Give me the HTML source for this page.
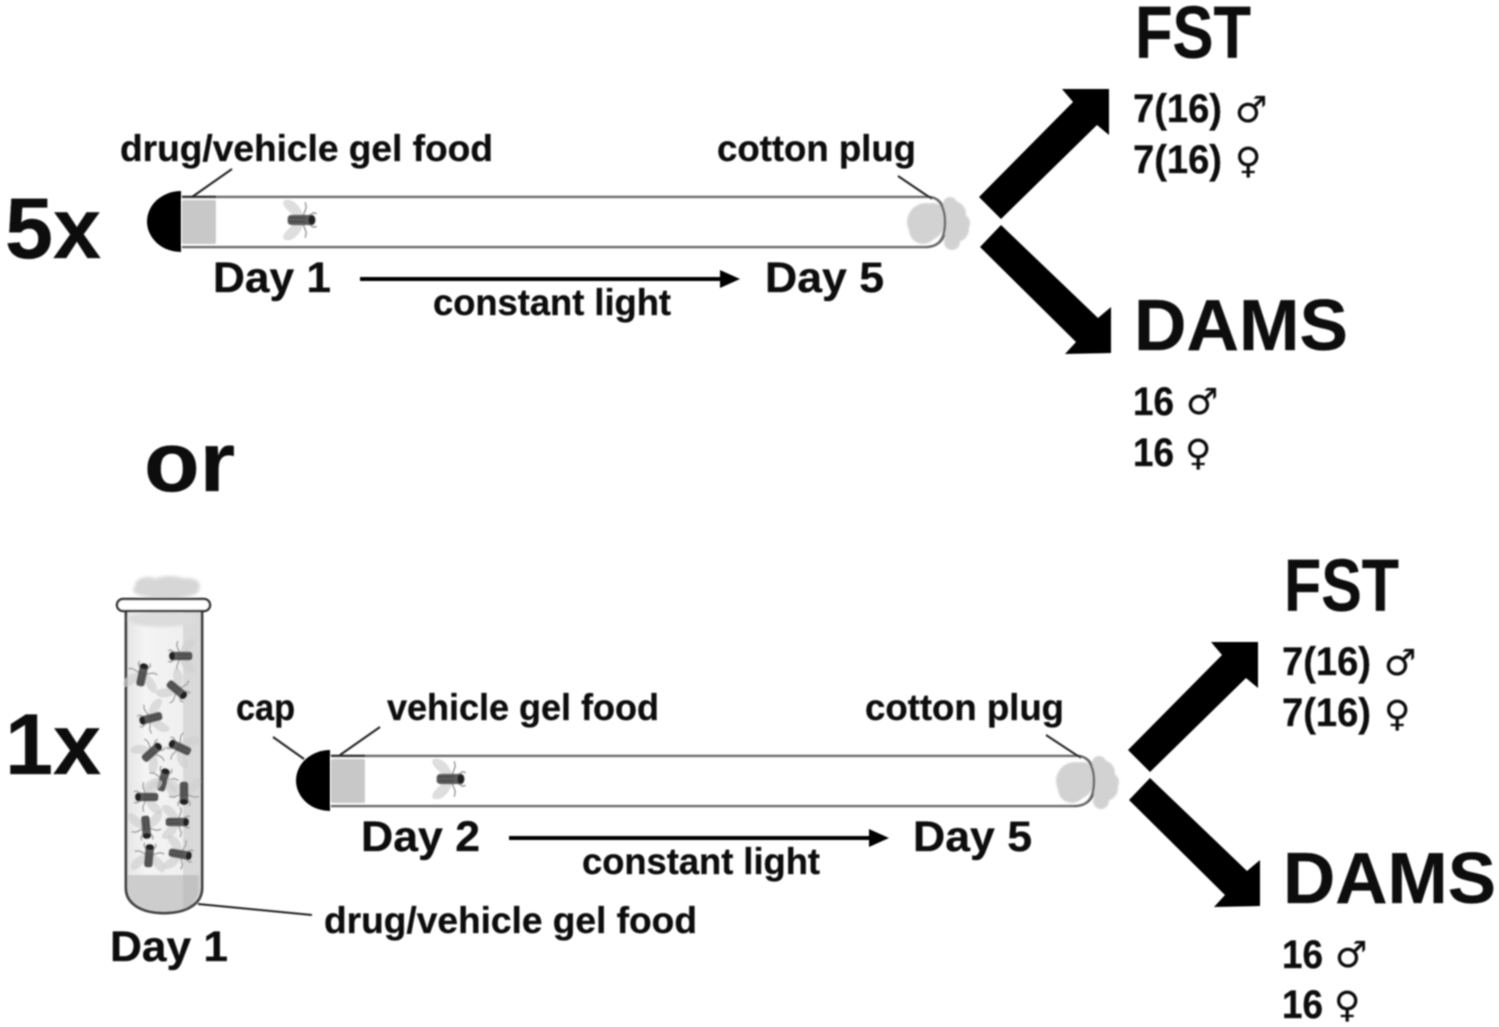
<!DOCTYPE html>
<html><head><meta charset="utf-8"><style>
html,body{margin:0;padding:0;background:#fff;width:1499px;height:1027px;overflow:hidden}
svg{display:block}
text{font-family:"Liberation Sans",sans-serif;font-weight:bold;fill:#111;stroke:#111;stroke-width:.3}
.s{font-family:"DejaVu Sans",sans-serif;font-weight:normal;stroke-width:.2}
</style></head><body>
<svg width="1499" height="1027" viewBox="0 0 1499 1027" xmlns="http://www.w3.org/2000/svg">
<defs>
<filter id="b" x="-5%" y="-5%" width="110%" height="110%"><feGaussianBlur stdDeviation="0.7"/></filter>
<filter id="b2" x="-20%" y="-20%" width="140%" height="140%"><feGaussianBlur stdDeviation="1.6"/></filter>
<filter id="b3" x="-30%" y="-30%" width="160%" height="160%"><feGaussianBlur stdDeviation="0.9"/></filter>
<linearGradient id="glass" x1="0" x2="1" y1="0" y2="0"><stop offset="0" stop-color="#e4e4e4"/><stop offset=".25" stop-color="#f4f4f4"/><stop offset=".72" stop-color="#f0f0f0"/></linearGradient>
<g id="fly">
<path d="M-4,-3C-12,-8,-20,-17,-14,-19C-7,-21,1,-13,3,-4Z" fill="#d0d0d0" opacity=".7"/>
<path d="M-4,3C-12,8,-20,17,-14,19C-7,21,1,13,3,4Z" fill="#d0d0d0" opacity=".7"/>
<path d="M3,-4L6,-12L5,-17M3,4L6,12L5,17M8,-4L13,-7L16,-6M8,4L13,7L16,6" stroke="#a0a0a0" stroke-width="1.6" fill="none"/>
<rect x="-12" y="-5" width="24" height="10" rx="3.500" fill="#5c5c5c"/>
<path d="M-10,-2H5M-10,1.500H5" stroke="#3c3c3c" stroke-width="1"/>
<ellipse cx="11.500" cy="0" rx="3.500" ry="5" fill="#222"/>
</g>
<g id="plug" fill="#d2d2d2" filter="url(#b3)">
<circle cx="-3" cy="-2" r="19"/><circle cx="-6" cy="6" r="14"/><circle cx="4" cy="-8" r="13"/>
<circle cx="24" cy="-10" r="13"/><circle cx="27" cy="5" r="13"/><circle cx="21" cy="-20" r="7"/><circle cx="23" cy="18" r="8"/><circle cx="32" cy="-1" r="9"/><circle cx="30" cy="11" r="6"/>
</g>
<g id="tube">
<path d="M182,197H928C942,197 947,212 947,222C947,234 942,247 925,247H182" fill="#fff" stroke="#6a6a6a" stroke-width="2.5"/>
<path d="M182,197H216" stroke="#333" stroke-width="2.5"/>
<rect x="182" y="200" width="34" height="44" rx="2" fill="#c8c8c8"/>
<path d="M181,191A34,30.500 0 0 0 181,252Z" fill="#000"/>
<use href="#plug" transform="translate(929,224)"/>
<path d="M928,197C942,197 945,212 945,222C945,234 942,247 925,247" fill="none" stroke="#6a6a6a" stroke-width="2.500"/>
<use href="#fly" transform="translate(300,220) scale(1.05)"/>
<path d="M360,279H724" stroke="#000" stroke-width="4"/>
<path d="M720,270L740,279L720,288Z" fill="#000"/>
</g>
<g id="arrows">
<path d="M979,197L1073,102L1062,89H1109V135L1097,125L1001,219Z" fill="#000"/>
<path d="M980,247L1001,225L1098,318L1111,307V353L1065,354L1076,342Z" fill="#000"/>
</g>
</defs>
<g filter="url(#b)">
<use href="#tube"/>
<use href="#tube" transform="translate(149,559)"/>
<use href="#arrows"/>
<use href="#arrows" transform="translate(149,553)"/>
<path d="M192,197L232,169M898,176L932,199M340,755L380,727M1046,735L1081,758M273,737L304,759" stroke="#222" stroke-width="2" fill="none"/>
<path d="M198,904L312,915" stroke="#222" stroke-width="2" fill="none"/>

<!-- vertical test tube -->
<g filter="url(#b2)" fill="#d6d6d6"><ellipse cx="166" cy="590" rx="33" ry="9"/><ellipse cx="148" cy="585" rx="13" ry="8"/><ellipse cx="170" cy="583" rx="18" ry="7"/><ellipse cx="188" cy="586" rx="12" ry="8"/></g>
<path d="M126,608V888C126,904 142,913 164,913C186,913 202,904 202,888V608Z" fill="url(#glass)" stroke="#444" stroke-width="3"/>
<rect x="183" y="612" width="17" height="264" fill="#d9d9d9"/>
<path d="M128,875H200V888C200,902 186,911 164,911C142,911 128,902 128,888Z" fill="#cdcdcd"/>
<path d="M183,875H198V892C196,902 190,907 183,909Z" fill="#c2c2c2"/>
<ellipse cx="162" cy="619" rx="34" ry="8" fill="#dcdcdc" filter="url(#b2)"/>
<rect x="117" y="599" width="93" height="12" rx="6" fill="#fff" stroke="#333" stroke-width="2.5"/>
<g>
<use href="#fly" transform="translate(182,656) rotate(180) scale(.88)"/>
<use href="#fly" transform="translate(142,676) rotate(-78) scale(.88)"/>
<use href="#fly" transform="translate(176,689) rotate(40) scale(.88)"/>
<use href="#fly" transform="translate(152,718) rotate(165) scale(.88)"/>
<use href="#fly" transform="translate(151,753) rotate(-42) scale(.88)"/>
<use href="#fly" transform="translate(181,748) rotate(205) scale(.88)"/>
<use href="#fly" transform="translate(163,781) rotate(-75) scale(.88)"/>
<use href="#fly" transform="translate(184,792) rotate(90) scale(.88)"/>
<use href="#fly" transform="translate(148,797) rotate(180) scale(.88)"/>
<use href="#fly" transform="translate(146,826) rotate(85) scale(.88)"/>
<use href="#fly" transform="translate(176,822) rotate(0) scale(.88)"/>
<use href="#fly" transform="translate(149,857) rotate(-85) scale(.88)"/>
<use href="#fly" transform="translate(179,854) rotate(10) scale(.88)"/>
</g>

<!-- labels -->
<text x="5" y="258" font-size="86" textLength="96" lengthAdjust="spacingAndGlyphs">5x</text>
<text x="144" y="491" font-size="84" textLength="91" lengthAdjust="spacingAndGlyphs">or</text>
<text x="5" y="774" font-size="86" textLength="96" lengthAdjust="spacingAndGlyphs">1x</text>

<text x="120" y="161" font-size="37" textLength="373" lengthAdjust="spacingAndGlyphs">drug/vehicle gel food</text>
<text x="717" y="161" font-size="37" textLength="199" lengthAdjust="spacingAndGlyphs">cotton plug</text>
<text x="213" y="292" font-size="43" textLength="118" lengthAdjust="spacingAndGlyphs">Day 1</text>
<text x="765" y="292" font-size="43" textLength="119" lengthAdjust="spacingAndGlyphs">Day 5</text>
<text x="433" y="315" font-size="37" textLength="238" lengthAdjust="spacingAndGlyphs">constant light</text>

<text x="236" y="720" font-size="37" textLength="59" lengthAdjust="spacingAndGlyphs">cap</text>
<text x="387" y="720" font-size="37" textLength="272" lengthAdjust="spacingAndGlyphs">vehicle gel food</text>
<text x="865" y="720" font-size="37" textLength="199" lengthAdjust="spacingAndGlyphs">cotton plug</text>
<text x="361" y="851" font-size="43" textLength="119" lengthAdjust="spacingAndGlyphs">Day 2</text>
<text x="913" y="851" font-size="43" textLength="119" lengthAdjust="spacingAndGlyphs">Day 5</text>
<text x="582" y="874" font-size="37" textLength="238" lengthAdjust="spacingAndGlyphs">constant light</text>
<text x="324" y="933" font-size="37" textLength="373" lengthAdjust="spacingAndGlyphs">drug/vehicle gel food</text>
<text x="110" y="961" font-size="43" textLength="118" lengthAdjust="spacingAndGlyphs">Day 1</text>

<text x="1135" y="58" font-size="74" textLength="116" lengthAdjust="spacingAndGlyphs">FST</text>
<text x="1134" y="350" font-size="72" textLength="214" lengthAdjust="spacingAndGlyphs">DAMS</text>
<text x="1133" y="122" font-size="40" textLength="89" lengthAdjust="spacingAndGlyphs">7(16)</text>
<text x="1133" y="173" font-size="40" textLength="89" lengthAdjust="spacingAndGlyphs">7(16)</text>
<text x="1133" y="415" font-size="40" textLength="41" lengthAdjust="spacingAndGlyphs">16</text>
<text x="1133" y="466" font-size="40" textLength="41" lengthAdjust="spacingAndGlyphs">16</text>
<text class="s" x="1235" y="122" font-size="36">♂</text>
<text class="s" x="1235" y="173" font-size="36">♀</text>
<text class="s" x="1186" y="414" font-size="36">♂</text>
<text class="s" x="1185" y="465" font-size="36">♀</text>

<text x="1284" y="611" font-size="74" textLength="115" lengthAdjust="spacingAndGlyphs">FST</text>
<text x="1283" y="903" font-size="72" textLength="213" lengthAdjust="spacingAndGlyphs">DAMS</text>
<text x="1282" y="675" font-size="40" textLength="89" lengthAdjust="spacingAndGlyphs">7(16)</text>
<text x="1282" y="726" font-size="40" textLength="89" lengthAdjust="spacingAndGlyphs">7(16)</text>
<text x="1282" y="968" font-size="40" textLength="41" lengthAdjust="spacingAndGlyphs">16</text>
<text x="1282" y="1018" font-size="40" textLength="41" lengthAdjust="spacingAndGlyphs">16</text>
<text class="s" x="1384" y="675" font-size="36">♂</text>
<text class="s" x="1384" y="726" font-size="36">♀</text>
<text class="s" x="1335" y="967" font-size="36">♂</text>
<text class="s" x="1334" y="1017" font-size="36">♀</text>
</g>
</svg>
</body></html>
